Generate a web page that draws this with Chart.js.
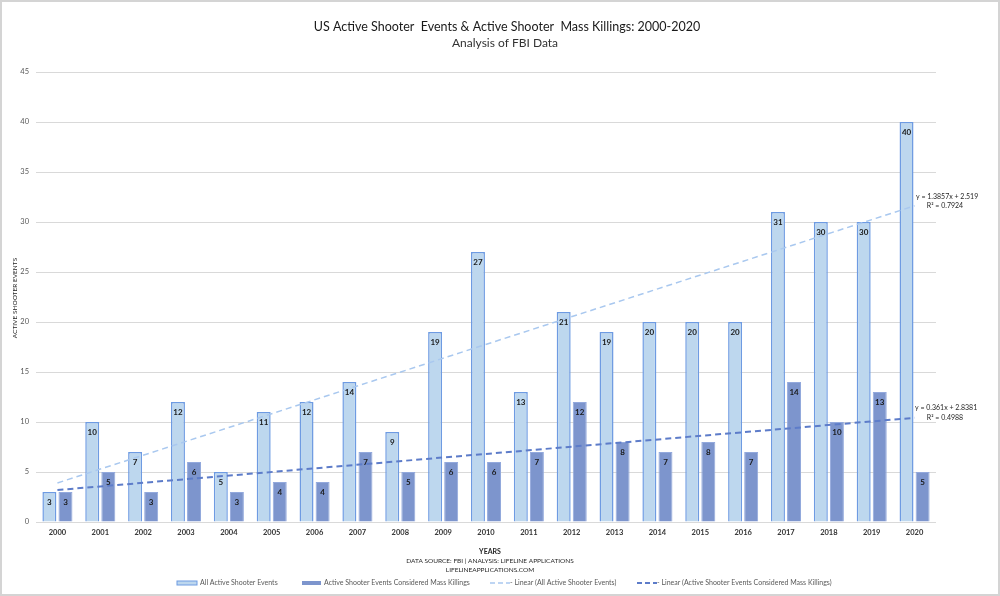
<!DOCTYPE html>
<html>
<head>
<meta charset="utf-8">
<script src="https://cdn.jsdelivr.net/npm/chart.js@4.4.1/dist/chart.umd.min.js"></script>
<style>
    body { margin: 0; background: #fff; }
    #wrap { width: 1000px; height: 596px; position: relative; }
</style>
</head>
<body>
<div id="wrap"><canvas id="myChart"></canvas></div>
<script>
// values
const years = ['2000', '2001', '2002', '2003', '2004', '2005', '2006', '2007', '2008', '2009', '2010',
    '2011', '2012', '2013', '2014', '2015', '2016', '2017', '2018', '2019', '2020'];
const allEvents = [3, 10, 7, 12, 5, 11, 12, 14, 9, 19, 27, 13, 21, 19, 20, 20, 20, 31, 30, 30, 40];
const massKillings = [3, 5, 3, 6, 3, 4, 4, 7, 5, 6, 6, 7, 12, 8, 7, 8, 7, 14, 10, 13, 5];
// trendline ends (first and last year), from the equations printed on the chart
const trendAllEnds = [3.905, 31.619];
const trendMassEnds = [3.199, 10.42];
const yTicks = [0, 5, 10, 15, 20, 25, 30, 35, 40, 45];

const FONT = 'Lato, "Open Sans", sans-serif';

const lightFill = '#BDD7EE';
const lightLine = '#6E9BE2';
const darkFill = '#7D95CD';
const darkLine = '#93A9DD';
const trendLight = '#A9C8EF';
const trendDark = '#5D7CC9';

// labels inside the top of each bar
const barLabels = {
    id: 'barLabels',
    afterDatasetsDraw(chart) {
        const ctx = chart.ctx;
        ctx.save();
        ctx.font = 'bold 8px ' + FONT;
        ctx.fillStyle = '#1a1a1a';
        ctx.textAlign = 'center';
        ctx.textBaseline = 'middle';
        [0, 1].forEach(i => {
            const meta = chart.getDatasetMeta(i);
            meta.data.forEach((bar, j) => {
                ctx.fillText(chart.data.datasets[i].data[j], bar.x, bar.y + 10);
            });
        });
        ctx.restore();
    }
};

// titles, axis captions, trend equations, legend, frame
const extras = {
    id: 'extras',
    afterDraw(chart) {
        const ctx = chart.ctx;
        ctx.save();
        ctx.strokeStyle = '#D4D4D4';
        ctx.lineWidth = 2;
        ctx.strokeRect(1, 1, 998, 594);

        ctx.fillStyle = '#1a1a1a';
        ctx.textAlign = 'center';
        ctx.textBaseline = 'middle';
        ctx.font = '12.5px ' + FONT;
        ctx.fillText('US Active Shooter  Events & Active Shooter  Mass Killings: 2000-2020', 507, 27);
        ctx.fillStyle = '#333';
        ctx.font = '12px ' + FONT;
        ctx.fillText('Analysis of FBI Data', 505, 43);

        ctx.fillStyle = '#262626';
        ctx.font = 'bold 7px ' + FONT;
        ctx.fillText('YEARS', 490, 552);
        ctx.font = '6.5px ' + FONT;
        ctx.fillText('DATA SOURCE: FBI | ANALYSIS: LIFELINE APPLICATIONS', 490, 561);
        ctx.fillText('LIFELINEAPPLICATIONS.COM', 490, 570);

        ctx.save();
        ctx.translate(15, 298);
        ctx.rotate(-Math.PI / 2);
        ctx.font = '6.5px ' + FONT;
        ctx.fillText('ACTIVE SHOOTER EVENTS', 0, 0);
        ctx.restore();

        ctx.font = '7px ' + FONT;
        ctx.fillStyle = '#262626';
        ctx.textAlign = 'left';
        ctx.fillText('y = 1.3857x + 2.519', 916, 197);
        ctx.fillText('y = 0.361x + 2.8381', 915, 408);
        ctx.textAlign = 'center';
        ctx.fillText('R\u00B2 = 0.7924', 945, 206);
        ctx.fillText('R\u00B2 = 0.4988', 945, 418);

        // legend
        const ly = 583;
        ctx.textAlign = 'left';
        ctx.font = '7px ' + FONT;
        ctx.fillStyle = lightFill;
        ctx.fillRect(177, ly - 2, 20, 4);
        ctx.strokeStyle = lightLine;
        ctx.lineWidth = 1;
        ctx.strokeRect(177, ly - 2, 20, 4);
        ctx.fillStyle = darkFill;
        ctx.fillRect(302, ly - 2, 19, 4);
        ctx.fillStyle = '#595959';
        ctx.fillText('All Active Shooter Events', 200, ly);
        ctx.fillText('Active Shooter Events Considered Mass Killings', 324, ly);
        ctx.fillText('- Linear (All Active Shooter Events)', 510, ly);
        ctx.fillText('- Linear (Active Shooter Events Considered Mass Killings)', 657, ly);
        ctx.setLineDash([5, 3]);
        ctx.lineWidth = 1.5;
        ctx.strokeStyle = trendLight;
        ctx.beginPath(); ctx.moveTo(490, ly); ctx.lineTo(510, ly); ctx.stroke();
        ctx.lineWidth = 2;
        ctx.strokeStyle = trendDark;
        ctx.beginPath(); ctx.moveTo(637, ly); ctx.lineTo(657, ly); ctx.stroke();
        ctx.restore();
    }
};

new Chart(document.getElementById('myChart'), {
    type: 'bar',
    data: {
        labels: years,
        datasets: [{
            label: 'All Active Shooter Events',
            data: allEvents,
            backgroundColor: lightFill,
            borderColor: lightLine,
            borderWidth: 1.5,
            categoryPercentage: 0.75,
            barPercentage: 0.87,
            order: 1
        }, {
            label: 'Active Shooter Events Considered Mass Killings',
            data: massKillings,
            backgroundColor: darkFill,
            borderColor: darkLine,
            borderWidth: 1,
            categoryPercentage: 0.75,
            barPercentage: 0.87,
            order: 1
        }, {
            type: 'line',
            label: 'Linear (All Active Shooter Events)',
            data: [{ x: years[0], y: trendAllEnds[0] }, { x: years[years.length - 1], y: trendAllEnds[1] }],
            borderColor: trendLight,
            borderWidth: 1.5,
            borderDash: [6, 4],
            pointRadius: 0,
            fill: false,
            order: 0
        }, {
            type: 'line',
            label: 'Linear (Active Shooter Events Considered Mass Killings)',
            data: [{ x: years[0], y: trendMassEnds[0] }, { x: years[years.length - 1], y: trendMassEnds[1] }],
            borderColor: trendDark,
            borderWidth: 2,
            borderDash: [6, 4],
            pointRadius: 0,
            fill: false,
            order: 0
        }]
    },
    options: {
        responsive: true,
        maintainAspectRatio: false,
        animation: false,
        layout: { padding: { top: 72, right: 64, bottom: 0, left: 0 } },
        plugins: {
            legend: { display: false },
            tooltip: { enabled: false }
        },
        scales: {
            x: {
                grid: { display: false, drawTicks: false },
                border: { display: false },
                ticks: { color: '#333', font: { family: FONT, size: 7.5, weight: 'bold' }, padding: 6, maxRotation: 0 },
                afterFit: s => { s.height = 74; }
            },
            y: {
                min: 0,
                max: 45,
                afterBuildTicks: s => { s.ticks = yTicks.map(v => ({ value: v })); },
                grid: { color: '#D9D9D9', lineWidth: 1, drawTicks: false },
                border: { display: false },
                ticks: { color: '#595959', font: { family: FONT, size: 7.5 }, padding: 7 },
                afterFit: s => { s.width = 36; }
            }
        }
    },
    plugins: [barLabels, extras]
});
</script>
</body>
</html>
